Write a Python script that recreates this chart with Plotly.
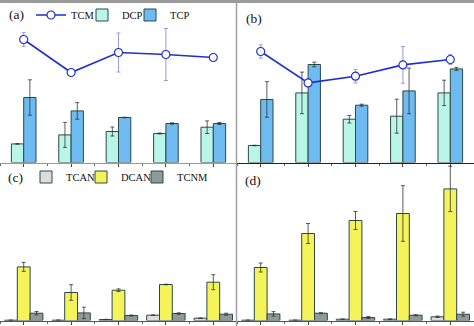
import plotly.graph_objects as go

categories = ["1", "2", "3", "4", "5"]
xi = list(range(len(categories)))

# Panel (a)
a_dcp = [18.6, 27.6, 31.0, 29.0, 35.3]
a_dcp_err = [0.3, 12.5, 4.5, 0.5, 6.3]
a_tcp = [65.0, 51.6, 45.0, 39.0, 39.0]
a_tcp_err = [17.7, 8.3, 0.3, 0.7, 1.0]
a_tcm = [123.0, 90.0, 110.0, 108.0, 105.0]
a_tcm_err = [6.8, 1.0, 19.5, 26.0, 2.5]

# Panel (b)
b_dcp = [17.0, 69.6, 43.3, 46.3, 69.6]
b_dcp_err = [0.3, 20.8, 3.8, 17.0, 12.7]
b_tcp = [63.0, 98.0, 57.3, 71.6, 93.6]
b_tcp_err = [17.8, 2.3, 1.0, 22.8, 1.5]
b_tcm = [111.0, 79.6, 86.3, 97.6, 103.0]
b_tcm_err = [6.7, 1.0, 6.7, 18.3, 5.0]

# Panel (c)
c_tcan = [0.3, 0.3, 1.0, 5.3, 2.3]
c_tcan_err = [0.1, 0.1, 0.2, 0.3, 0.3]
c_dcan = [53.6, 28.0, 30.3, 36.0, 38.3]
c_dcan_err = [4.5, 7.8, 1.3, 0.3, 7.5]
c_tcnm = [7.3, 7.6, 5.0, 7.0, 6.3]
c_tcnm_err = [1.7, 5.7, 0.5, 0.7, 1.0]

# Panel (d)
d_tcan = [0.3, 0.3, 1.3, 1.3, 3.7]
d_tcan_err = [0.1, 0.1, 0.2, 0.3, 0.7]
d_dcan = [53.0, 87.0, 100.0, 107.0, 131.6]
d_dcan_err = [4.5, 10.0, 9.0, 27.8, 22.7]
d_tcnm = [6.6, 7.3, 3.0, 5.3, 6.3]
d_tcnm_err = [2.3, 0.5, 1.0, 0.5, 2.0]

C_DCP = "#b9f6e8"
C_TCP = "#6dbbf1"
C_TCAN = "#dcdcdc"
C_DCAN = "#f4f45a"
C_TCNM = "#8e9a97"
OUT = "#2e4848"
LINE = "#1f2fd2"
ERRC = "#333333"
FONT = "Liberation Serif"

fig = go.Figure()


def bar(x, y, err, color, name, xa, ya, off, w, legend=None):
    fig.add_trace(go.Bar(
        x=x, y=y, name=name, xaxis=xa, yaxis=ya, offset=off, width=w,
        marker=dict(color=color, line=dict(color=OUT, width=1)),
        error_y=dict(type="data", array=err, color=ERRC, thickness=0.8, width=2),
        showlegend=legend is not None, legend=legend or "legend"))


def tcm(x, y, err, xa, ya, legend=None):
    fig.add_trace(go.Scatter(
        x=x, y=y, name="TCM", xaxis=xa, yaxis=ya, mode="lines+markers",
        line=dict(color=LINE, width=1.6),
        marker=dict(symbol="circle", size=8, color="white", line=dict(color=LINE, width=1.2)),
        error_y=dict(type="data", array=err, color="#9a9ae6", thickness=1, width=2),
        showlegend=legend is not None, legend=legend or "legend"))


w2 = 0.26
tcm(xi, a_tcm, a_tcm_err, "x", "y", "legend")
bar(xi, a_dcp, a_dcp_err, C_DCP, "DCP", "x", "y", -w2, w2, "legend2")
bar(xi, a_tcp, a_tcp_err, C_TCP, "TCP", "x", "y", 0, w2, "legend3")

bar(xi, b_dcp, b_dcp_err, C_DCP, "DCP", "x2", "y2", -w2, w2)
bar(xi, b_tcp, b_tcp_err, C_TCP, "TCP", "x2", "y2", 0, w2)
tcm(xi, b_tcm, b_tcm_err, "x2", "y2")

w3 = 0.27
bar(xi, c_tcan, c_tcan_err, C_TCAN, "TCAN", "x3", "y3", -1.5 * w3, w3, "legend4")
bar(xi, c_dcan, c_dcan_err, C_DCAN, "DCAN", "x3", "y3", -0.5 * w3, w3, "legend5")
bar(xi, c_tcnm, c_tcnm_err, C_TCNM, "TCNM", "x3", "y3", 0.5 * w3, w3, "legend6")

bar(xi, d_tcan, d_tcan_err, C_TCAN, "TCAN", "x4", "y4", -1.5 * w3, w3)
bar(xi, d_dcan, d_dcan_err, C_DCAN, "DCAN", "x4", "y4", -0.5 * w3, w3)
bar(xi, d_tcnm, d_tcnm_err, C_TCNM, "TCNM", "x4", "y4", 0.5 * w3, w3)

H = 326.0
W = 474.0
top_dom = [1 - 162.5 / H, 1 - 3 / H]
bot_dom = [1 - 320.5 / H, 1 - 163 / H]


def xax(dom, anchor, lc):
    return dict(domain=dom, anchor=anchor, range=[-0.5, 4.5], showgrid=False, zeroline=False,
                showline=True, linecolor=lc, linewidth=1, tickvals=xi, ticks="outside",
                ticklen=3, tickcolor="#444", showticklabels=False,
                minor=dict(tick0=0.5, dtick=1, ticks="outside", ticklen=2, tickcolor="#666"))


def yax(dom, anchor, rng):
    return dict(domain=dom, anchor=anchor, range=rng, showgrid=False, zeroline=False,
                showline=False, showticklabels=False, ticks="")


def leg(textx, ycen):
    return dict(orientation="h", x=(textx - 40) / W, y=1 - ycen / H, xanchor="left",
                yanchor="middle", bgcolor="rgba(0,0,0,0)", borderwidth=0,
                font=dict(family=FONT, size=10.5, color="#111"), itemwidth=30)


fig.update_layout(
    width=474, height=326, margin=dict(l=0, r=0, t=0, b=0),
    paper_bgcolor="white", plot_bgcolor="white", barmode="overlay",
    font=dict(family=FONT, size=12, color="#111"),
    xaxis=xax([0, 0.5], "y", "#999"),
    yaxis=yax(top_dom, "x", [0, 159.5]),
    xaxis2=xax([0.5, 1], "y2", "#222"),
    yaxis2=yax(top_dom, "x2", [0, 159.5]),
    xaxis3=xax([0, 0.5], "y3", "#555"),
    yaxis3=yax(bot_dom, "x3", [0, 157.5]),
    xaxis4=xax([0.5, 1], "y4", "#555"),
    yaxis4=yax(bot_dom, "x4", [0, 157.5]),
    legend=leg(71, 15), legend2=leg(122, 15), legend3=leg(170, 15),
    legend4=leg(66, 177), legend5=leg(121, 177), legend6=leg(177, 177),
    annotations=[
        dict(text="(a)", x=7 / W, y=1 - 15 / H, xref="paper", yref="paper", showarrow=False,
             xanchor="left", yanchor="middle", font=dict(family=FONT, size=13.5)),
        dict(text="(b)", x=244 / W, y=1 - 18 / H, xref="paper", yref="paper", showarrow=False,
             xanchor="left", yanchor="middle", font=dict(family=FONT, size=13.5)),
        dict(text="(c)", x=6 / W, y=1 - 177 / H, xref="paper", yref="paper", showarrow=False,
             xanchor="left", yanchor="middle", font=dict(family=FONT, size=13.5)),
        dict(text="(d)", x=243 / W, y=1 - 180 / H, xref="paper", yref="paper", showarrow=False,
             xanchor="left", yanchor="middle", font=dict(family=FONT, size=13.5)),
    ],
    shapes=[
        dict(type="rect", xref="paper", yref="paper", x0=0, x1=1, y0=1 - 3 / H, y1=1,
             fillcolor="#9a9a9a", line=dict(width=0)),
        dict(type="line", xref="paper", yref="paper", x0=236.5 / W, x1=236.5 / W, y0=0, y1=1,
             line=dict(color="#a0a0a0", width=1.5)),
    ],
)

fig.write_html("out.html")
